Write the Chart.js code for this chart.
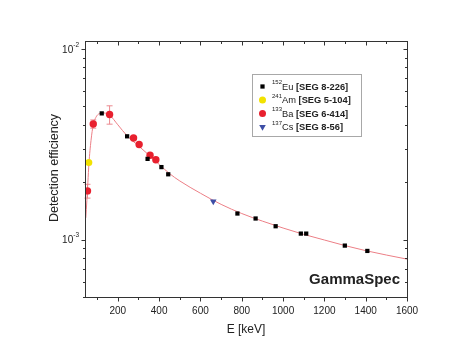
<!DOCTYPE html>
<html><head><meta charset="utf-8">
<script src="https://cdn.jsdelivr.net/npm/chart.js@4/dist/chart.umd.min.js"></script>
<style>html,body{margin:0;padding:0;background:#fff;}#wrap{width:474px;height:356px;position:relative}</style>
</head><body><div id="wrap"><canvas id="c" width="474" height="356"></canvas></div>
<script>
// ---- data ----
const euE   = [122, 245, 344, 411, 444, 779, 867, 964, 1086, 1112, 1299, 1408];
const euEff = [4.59e-3, 3.48e-3, 2.65e-3, 2.40e-3, 2.20e-3, 1.37e-3, 1.29e-3, 1.175e-3, 1.075e-3, 1.075e-3, 0.93e-3, 0.872e-3];
const amE   = [59.5];
const amEff = [2.54e-3];
const baE   = [53, 81, 160, 276, 303, 356, 384];
const baEff = [1.80e-3, 4.04e-3, 4.53e-3, 3.41e-3, 3.15e-3, 2.77e-3, 2.62e-3];
const baErr = [0.15e-3, 0.2e-3, 0.5e-3, 0.06e-3, 0.06e-3, 0.06e-3, 0.06e-3];
const csE   = [662];
const csEff = [1.585e-3];
const fitE   = [45, 50, 55, 60, 70, 81, 95, 110, 125, 140, 160, 200, 245, 300, 350, 400, 450, 500, 600, 700, 800, 900, 1000, 1100, 1200, 1300, 1400, 1500, 1600];
const fitEff = [1.3e-3, 1.6e-3, 2.0e-3, 2.5e-3, 3.3e-3, 4.0e-3, 4.4e-3, 4.58e-3, 4.62e-3, 4.6e-3, 4.5e-3, 4.0e-3, 3.5e-3, 3.1e-3, 2.78e-3, 2.48e-3, 2.22e-3, 2.03e-3, 1.75e-3, 1.53e-3, 1.37e-3, 1.25e-3, 1.15e-3, 1.065e-3, 0.995e-3, 0.93e-3, 0.875e-3, 0.83e-3, 0.79e-3];
const xMajorTicks = [200, 400, 600, 800, 1000, 1200, 1400, 1600];
const xMinorTicks = [100, 300, 500, 700, 900, 1100, 1300, 1500];
const yMajorTicks = [1e-3, 1e-2];
const yMajorExp   = ['-3', '-2'];
const yMinorTicks = [5e-4, 6e-4, 7e-4, 8e-4, 9e-4, 2e-3, 3e-3, 4e-3, 5e-3, 6e-3, 7e-3, 8e-3, 9e-3];
const legendIso  = ['152', '241', '133', '137'];
const legendEl   = ['Eu', 'Am', 'Ba', 'Cs'];
const legendSeg  = ['[SEG 8-226]', '[SEG 5-104]', '[SEG 6-414]', '[SEG 8-56]'];

const pts = (xs, ys) => xs.map((x, i) => ({x: x, y: ys[i]}));
const FONT = '"Liberation Sans", Arial, sans-serif';
const TXT = '#222';
const RED = '#e8202e', YEL = '#f2e200', BLU = '#3d4ea6';

const styles = [
  {style: 'rect', color: '#000', r: 3, rot: 0},
  {style: 'circle', color: YEL, r: 3.5, rot: 0},
  {style: 'circle', color: RED, r: 3.5, rot: 0},
  {style: 'triangle', color: BLU, r: 3.8, rot: 180}
];

const deco = {
  id: 'deco',
  beforeDatasetsDraw(chart) {
    const ctx = chart.ctx, xs = chart.scales.x, ys = chart.scales.y;
    ctx.save();
    ctx.strokeStyle = '#ec8a90';
    ctx.lineWidth = 1;
    baE.forEach((e, i) => {
      const px = xs.getPixelForValue(e);
      const y1 = ys.getPixelForValue(baEff[i] + baErr[i]);
      const y2 = ys.getPixelForValue(baEff[i] - baErr[i]);
      ctx.beginPath();
      ctx.moveTo(px, y1); ctx.lineTo(px, y2);
      ctx.moveTo(px - 3, y1); ctx.lineTo(px + 3, y1);
      ctx.moveTo(px - 3, y2); ctx.lineTo(px + 3, y2);
      ctx.stroke();
    });
    ctx.restore();
  },
  afterDraw(chart) {
    const ctx = chart.ctx, a = chart.chartArea, xs = chart.scales.x, ys = chart.scales.y;
    ctx.save();
    // frame
    ctx.strokeStyle = '#333';
    ctx.lineWidth = 1;
    const L = Math.round(a.left) + 0.5, R = Math.round(a.right) + 0.5, T = Math.round(a.top) + 0.5, B = Math.round(a.bottom) + 0.5;
    ctx.strokeRect(L, T, R - L, B - T);
    ctx.beginPath();
    const xt = (v, len) => {
      const p = Math.round(xs.getPixelForValue(v)) + 0.5;
      ctx.moveTo(p, B); ctx.lineTo(p, B + len);
      ctx.moveTo(p, T); ctx.lineTo(p, T + len);
    };
    xMajorTicks.forEach(v => xt(v, 4));
    xMinorTicks.forEach(v => xt(v, 2.5));
    const yt = (v, len) => {
      const p = Math.round(ys.getPixelForValue(v)) + 0.5;
      ctx.moveTo(L, p); ctx.lineTo(L - len, p);
      ctx.moveTo(R, p); ctx.lineTo(R - len, p);
    };
    yMajorTicks.forEach(v => yt(v, 4));
    yMinorTicks.forEach(v => yt(v, 2.5));
    ctx.stroke();

    // y tick labels 10^n
    ctx.fillStyle = TXT;
    ctx.textBaseline = 'middle';
    yMajorTicks.forEach((v, i) => {
      const p = ys.getPixelForValue(v);
      ctx.font = '6.5px ' + FONT;
      const sw = ctx.measureText(yMajorExp[i]).width;
      ctx.textAlign = 'left';
      const supX = 79 - sw;
      ctx.fillText(yMajorExp[i], supX, p - 4);
      ctx.font = '10px ' + FONT;
      ctx.textAlign = 'right';
      ctx.fillText('10', supX, p + 1);
    });

    // axis titles
    ctx.font = '12px ' + FONT;
    ctx.textAlign = 'center';
    ctx.fillText('E [keV]', (a.left + a.right) / 2, 330);
    ctx.save();
    ctx.translate(55, 168);
    ctx.rotate(-Math.PI / 2);
    ctx.font = '12.5px ' + FONT;
    ctx.fillText('Detection efficiency', 0, 0);
    ctx.restore();

    // legend
    ctx.strokeStyle = '#a8a8a8';
    ctx.strokeRect(252.5, 74.5, 109, 62);
    const rows = [86.5, 100, 113.5, 127];
    rows.forEach((ry, i) => {
      const s = styles[i];
      ctx.fillStyle = s.color;
      ctx.strokeStyle = s.color;
      Chart.helpers.drawPoint(ctx, {pointStyle: s.style, radius: s.r, rotation: s.rot, borderWidth: 0}, 262.5, ry);
      ctx.fillStyle = TXT;
      ctx.textAlign = 'left';
      ctx.font = '6px ' + FONT;
      ctx.fillText(legendIso[i], 272, ry - 4);
      let x = 272 + ctx.measureText(legendIso[i]).width;
      ctx.font = '9.3px ' + FONT;
      ctx.fillText(legendEl[i] + ' ', x, ry + 0.5);
      x += ctx.measureText(legendEl[i] + ' ').width;
      ctx.font = 'bold 9.3px ' + FONT;
      ctx.fillText(legendSeg[i], x, ry + 0.5);
    });

    // watermark
    ctx.font = 'bold 15px ' + FONT;
    ctx.textAlign = 'right';
    ctx.textBaseline = 'alphabetic';
    ctx.fillStyle = TXT;
    ctx.fillText('GammaSpec', 400, 284);
    ctx.restore();
  }
};

new Chart(document.getElementById('c'), {
  type: 'scatter',
  data: {
    datasets: [
      {data: pts(euE, euEff), pointStyle: 'rect', pointRadius: 3, backgroundColor: '#000', borderColor: '#000', borderWidth: 0},
      {data: pts(amE, amEff), pointStyle: 'circle', pointRadius: 3.5, backgroundColor: YEL, borderColor: YEL, borderWidth: 0},
      {data: pts(baE, baEff), pointStyle: 'circle', pointRadius: 3.7, backgroundColor: RED, borderColor: RED, borderWidth: 0},
      {data: pts(csE, csEff), pointStyle: 'triangle', pointRotation: 180, pointRadius: 3.8, backgroundColor: BLU, borderColor: BLU, borderWidth: 0},
      {data: pts(fitE, fitEff), showLine: true, pointRadius: 0, borderColor: '#ec7f86', borderWidth: 1, tension: 0.4, cubicInterpolationMode: 'monotone', fill: false}
    ]
  },
  options: {
    responsive: false,
    animation: false,
    events: [],
    layout: {padding: {top: 41, right: 67, left: 0, bottom: 0}},
    plugins: {legend: {display: false}, tooltip: {enabled: false}},
    scales: {
      x: {
        type: 'linear', min: 41, max: 1600,
        grid: {display: false, drawTicks: false},
        border: {display: false},
        ticks: {font: {family: FONT, size: 10}, color: TXT, padding: 8, maxRotation: 0, autoSkip: false, callback: v => String(v)},
        afterBuildTicks: s => { s.ticks = xMajorTicks.map(v => ({value: v})); },
        afterFit: s => { s.height = 59; }
      },
      y: {
        type: 'logarithmic', min: 5e-4, max: 1.1e-2,
        grid: {display: false, drawTicks: false},
        border: {display: false},
        ticks: {display: false},
        afterFit: s => { s.width = 85; }
      }
    }
  },
  plugins: [deco]
});
</script>
</body></html>
